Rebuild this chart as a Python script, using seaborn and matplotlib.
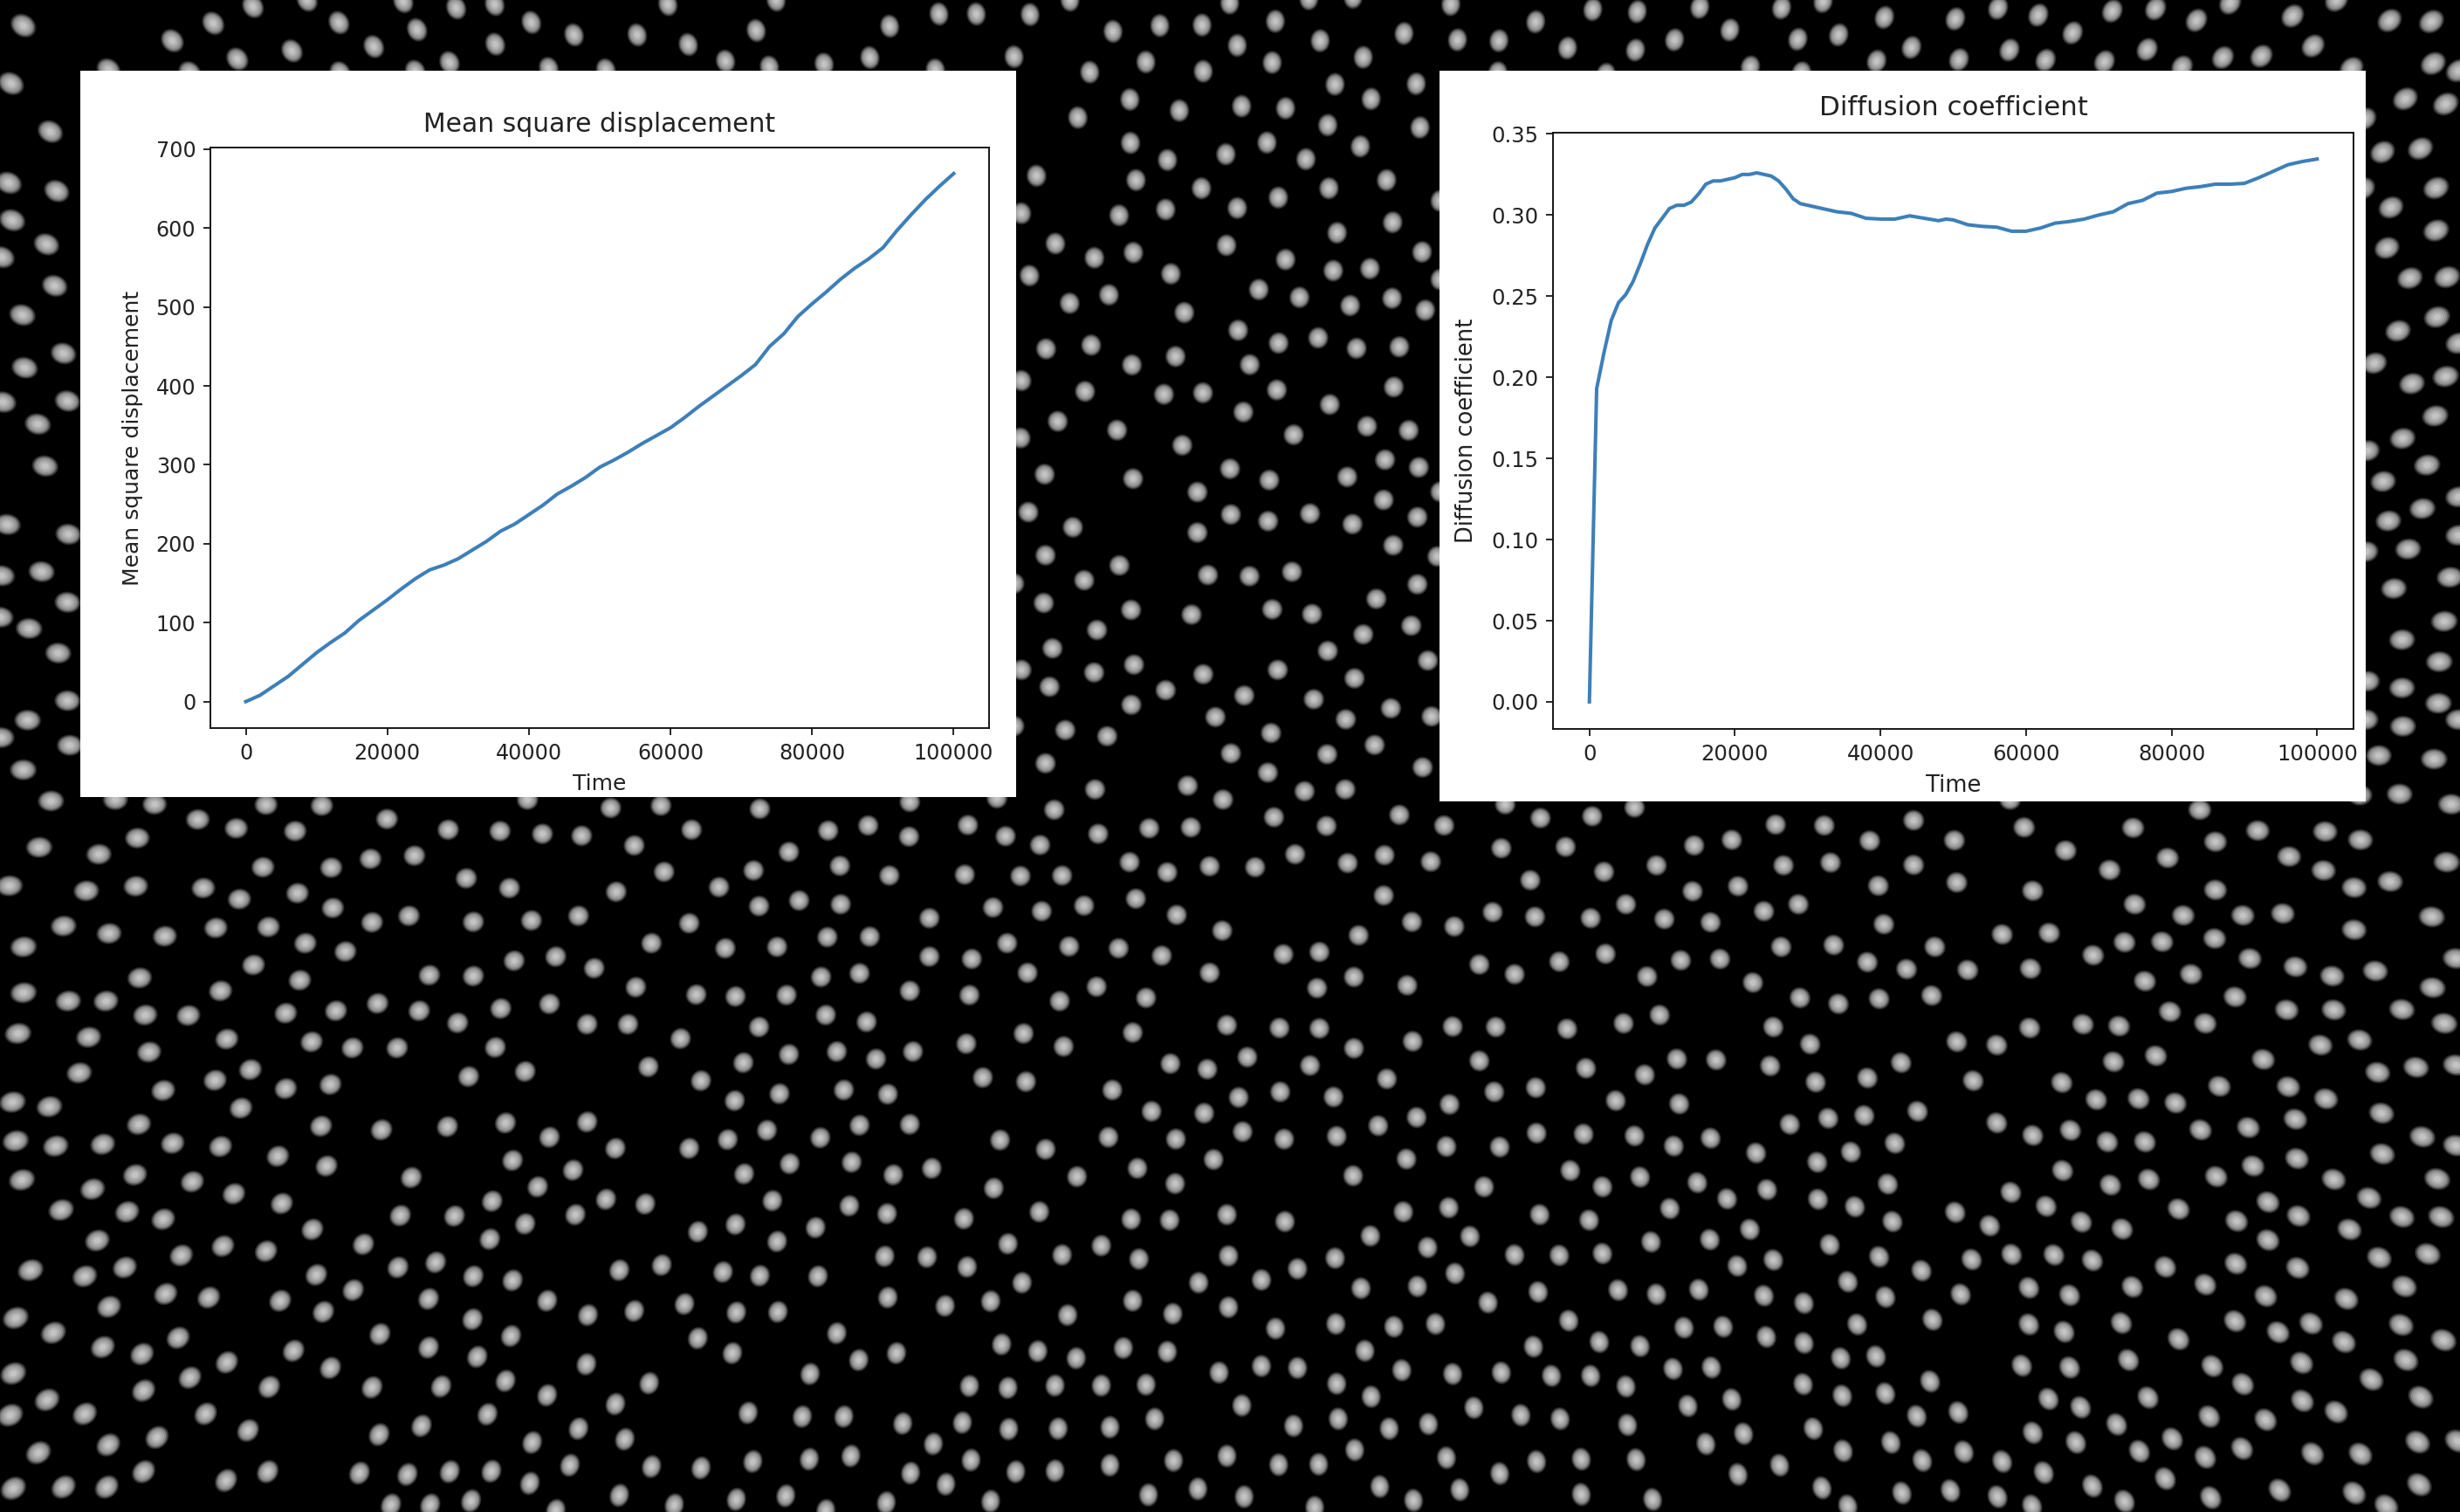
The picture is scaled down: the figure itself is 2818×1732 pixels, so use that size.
import numpy as np
import matplotlib
matplotlib.use("Agg")
import matplotlib.pyplot as plt
from matplotlib.collections import EllipseCollection
from matplotlib.patches import Rectangle
import seaborn as sns

# ---- chart values ----
time_msd = [0,2000,4000,6000,8000,10000,12000,14000,16000,18000,20000,22000,24000,26000,28000,30000,32000,34000,36000,38000,40000,42000,44000,46000,48000,50000,52000,54000,56000,58000,60000,62000,64000,66000,68000,70000,72000,74000,76000,78000,80000,82000,84000,86000,88000,90000,92000,94000,96000,98000,100000]
msd = [0,8,20,32,47,62,75,87,103,116,129,143,156,167,173,181,192,203,216,225,237,249,263,273,284,297,306,316,327,337,347,360,374,387,400,413,427,450,466,488,504,519,535,549,561,575,597,617,636,653,669]
time_diff = [0,1000,2000,3000,4000,5000,6000,7000,8000,9000,10000,11000,12000,13000,14000,15000,16000,17000,18000,19000,20000,21000,22000,23000,24000,25000,26000,27000,28000,29000,30000,32000,34000,36000,38000,40000,42000,44000,46000,48000,49000,50000,52000,54000,56000,58000,60000,62000,64000,66000,68000,70000,72000,74000,76000,78000,80000,82000,84000,86000,88000,90000,92000,94000,96000,98000,100000]
diff = [0,0.193,0.215,0.235,0.246,0.251,0.259,0.270,0.282,0.292,0.298,0.304,0.306,0.306,0.308,0.313,0.319,0.321,0.321,0.322,0.323,0.325,0.325,0.326,0.325,0.324,0.321,0.316,0.310,0.307,0.306,0.304,0.302,0.301,0.298,0.2975,0.2975,0.2995,0.298,0.2965,0.2975,0.297,0.294,0.293,0.2925,0.290,0.290,0.292,0.295,0.296,0.2975,0.300,0.302,0.307,0.309,0.3135,0.3145,0.3165,0.3175,0.319,0.319,0.3195,0.323,0.327,0.331,0.333,0.3345]
x_ticks = [0,20000,40000,60000,80000,100000]
msd_ticks = [0,100,200,300,400,500,600,700]
diff_ticks = [0,0.05,0.10,0.15,0.20,0.25,0.30,0.35]

# ---- background particles, read region by region from the picture ----
region_a = [(65,33),(147,30),(197,40),(339,41),(410,43),(672,30),(778,48),(842,43),(968,50),(1159,35),(1270,27),(1343,52),(1395,8),(1513,0),(1558,30),
(252,73),(301,92),(376,98),(493,72),(571,95),(637,98),(691,104),(741,108),(881,95),(1055,97),(1106,86),(1158,110),(1233,85),(1281,109),(1399,104),(1464,92),(1517,90),
(50,133),(126,148),(175,113),(808,129),(1325,128),
(335,176),(422,177),(472,158),(528,151),(846,186),(960,183),(1005,143),(1070,173),(1133,194),(1229,192),(1300,195),(1353,194),(1439,165),(1487,187),(1541,174),
(12,216),(110,227),(173,217),(259,221),(305,245),(379,232),(594,200),(649,221),(785,229),(916,219),
(424,264),(474,295),(521,281),(603,294),(677,291),(737,281),(878,297),(967,260),(1018,248),(1071,256),(1184,286),(1265,263),(1327,271),(1381,259),(1447,244),(1499,279),(1557,313),
(81,303),(139,319),(210,325),(275,307),(342,305),
(30,348),(389,340),(440,358),(830,340),(924,351),(990,348),(1054,327),(1108,326),(1283,340),(1362,347),(1425,351),(1480,367),
(323,387),(655,378),(708,369),(757,394),(1184,369),(1238,374),(1309,404),(1541,404),
(178,415),(382,420),(547,409),(603,411),(1046,413),(1095,405),
(30,447),(87,465),(135,465),(281,443),(810,435),(887,451),(937,455),(1002,452),(1159,443),(1235,452),(1350,465),(1397,434),(1460,458),
(185,495),(240,496),(364,491),(428,486),(481,470),(534,486),(638,481),(700,471),(1052,495),
(23,535),(113,543),(289,547),(583,512),(748,515),(800,515),(967,521),(1104,510),(1304,535),(1443,533),(1563,517),
(190,575),(397,553),(449,566),(506,566),(631,565),(867,546),(1005,580),(1066,574),(1116,590),(1163,574),(1231,557),(1355,563),(947,598),
(101,620),(319,613),(274,636),(597,628),(669,617),(826,607),(893,637),(1252,630),(1307,639),(1491,600),(1538,612),
(208,658),(364,654),(421,645),(993,665),(1075,657),(1131,666),(1417,657),
(16,683),(63,693),(307,696),(936,680),(1467,703),(1534,707),
(177,731),(409,735),(486,743),(570,736),(644,728),(748,726),(977,744),(1095,733),(1159,731),
(20,767),(71,778),(131,774),(220,772),(281,779),(700,759),(784,783),(878,783),(927,764),(1045,760),(1274,765),(1332,785),(1412,759),(1498,763),
(354,800),(416,821),(653,809),(730,830),(1006,816),(1085,813),(1187,826),(1138,840),(1449,826),(1546,807),
(28,851),(118,871),(172,840),(245,855),(298,881),(524,846),(685,866),(948,838),(1372,844),(1497,859),(1266,869),
(78,916),(162,920),(208,936),(359,902),(627,897),(772,893),(822,903),(984,896),(1082,907),(1324,920),(1130,924),
(510,928),(579,929),(733,926),(669,946),(937,947),(1228,935),(1441,936),(1490,938),(1563,926),
(124,982),(398,958),(463,990),(624,979),(889,963),(1039,954),(990,984),(1284,989),
(231,1014),(284,994),(339,1005),(1127,1016),(1181,1018),(1353,1013),(1403,993),(1451,1022),(1565,1015),
(39,1046),(108,1059),(159,1040),(403,1056),(507,1040),(555,1029),(603,1059),(653,1068),(789,1046),(843,1035),(921,1050),(968,1058),(1042,1059),(1232,1039),(1527,1073),(1302,1073),
(211,1097),(266,1105),(450,1089),
(139,1125),(357,1112),(412,1136),(546,1108),(697,1112),(749,1143),(808,1134),(872,1119),(938,1137),(991,1136),(1131,1105),(1204,1123),(1262,1113),(1443,1112),(1360,1143),(1494,1140),(1565,1126),
(20,1149),(602,1152),
(68,1181),(227,1192),(131,1212),(181,1227),(374,1220),(484,1184),(546,1213),(651,1188),(889,1193),(1066,1182),(1276,1206),(1322,1221),(1431,1214),(1487,1222),(608,1233),(933,1225),(1142,1225),(1371,1236),(1094,1240),
(17,1269),(289,1245),(242,1278),(421,1257),(747,1249),(1032,1270),(1553,1267),
(183,1306),(343,1298),(474,1299),(562,1297),(644,1285),(697,1316),(827,1290),(1235,1296),(1284,1300),(1344,1295),(1403,1295),(1460,1293),
(60,1326),(13,1359),(108,1356),(262,1356),(621,1357),(784,1335),(953,1354),(1022,1362),(1075,1362),(1150,1377),(1226,1375),(1471,1367),
(316,1392),(537,1382),(483,1401),(737,1388),(1285,1389),(1348,1388),(1414,1385),
(200,1407),(138,1423),(678,1418),(796,1411),(1189,1421),
(49,1440),(183,1481),(341,1481),(458,1484),(519,1487),(573,1481),(626,1480),(726,1467),(830,1470),(893,1473),(959,1459),(1031,1454),(1084,1447),(1237,1456),(1160,1484),(1294,1481),(1344,1479),(1414,1467),(1495,1457),(1563,1447),
(17,1517),(81,1514),(136,1514),(288,1500),(675,1506),(1205,1508),
(498,1553),(548,1553),(600,1544),(789,1532),(859,1553),(938,1541),(1001,1533),(1129,1548),(1262,1545),(1463,1531),(1526,1518),(708,1565),(1052,1565)]

region_b = [(94,12),(146,8),(350,40),(515,47),(994,30),(1236,52),(1491,18),(1440,20),(1557,40),
(55,68),(122,87),(215,63),(272,86),(395,70),(461,66),(695,84),(757,86),(871,75),(1012,90),(1151,91),(1310,97),(1396,99),(1441,117),
(82,148),(31,176),(149,167),(196,150),(255,164),(345,135),(427,132),(591,129),(639,117),(815,119),(923,118),(1065,140),(1256,121),(1195,156),(1350,153),(1551,165),
(382,204),(476,186),(543,172),(705,172),(765,166),(871,171),(1121,182),(1394,183),
(195,237),(589,228),(647,217),(826,216),(926,209),(1023,227),(1256,225),(1433,220),(1479,207),
(504,256),(724,256),(680,271),(1153,256),(1215,280),(1291,280),(1342,276),(1532,283),
(231,294),(285,304),(334,273),(388,283),(459,286),(553,288),(612,295),(833,299),(1433,311),
(163,323),(984,321),(1044,318),(1140,338),(1188,337),(1255,330),
(67,364),(113,359),(317,386),(419,380),(478,363),(574,377),(624,374),(702,348),(769,344),(898,348),(1100,366),(1300,373),(1563,373),
(362,407),(812,381),(862,396),(940,398),(1020,395),(1358,391),(1225,407),(1460,400),(1405,411),
(110,437),(157,413),(225,431),(531,412),(666,425),(1166,422),(1533,436),
(726,458),(775,471),(827,460),(894,453),(1281,456),(1198,488),(1347,484),(1407,484),(1494,483),
(5,517),(62,523),(113,524),(283,520),(338,521),(429,525),(501,513),(547,495),(692,521),(1019,523),(1087,515),(1133,519),(1243,513),(1548,513),
(232,552),(157,567),(739,558),(926,553),(977,560),(1440,549),(1390,560),
(21,586),(101,604),(317,594),(453,610),(569,590),(619,592),(688,605),(855,598),(1126,596),(1180,583),(1317,591),(1563,603),
(199,633),(528,624),(746,640),(812,631),(947,637),(1060,641),(1463,619),(1512,608),(1261,649),(1349,650),
(10,673),(63,661),(131,672),(336,661),(389,652),(491,680),(572,687),(1104,678),(1158,676),(1205,685),(1397,676),
(279,688),(237,716),(876,703),(1468,707),(808,712),(762,718),(713,731),
(15,747),(68,763),(135,757),(188,734),(390,750),(450,752),(515,756),(612,761),(977,728),(1071,744),(1023,755),(1237,743),(1298,738),(1358,720),(1520,758),(1563,777),
(224,806),(275,779),(343,780),(565,778),(670,793),(791,791),(847,772),(1118,769),(1166,769),(1469,795),(748,813),
(156,842),(433,831),(522,845),(595,857),(1061,831),(1304,821),(1360,805),(1257,844),(1407,850),(1539,849),(1171,850),
(323,866),(474,866),(684,872),(838,860),(1122,862),(995,878),
(5,925),(69,941),(220,920),(278,911),(394,926),(457,938),(560,913),(633,892),(749,893),(796,909),(924,921),(1040,908),(1209,914),(1323,899),(1452,890),(1362,929),(1283,940),(1494,931),(1544,931),(844,941),
(178,972),(305,973),(662,958),(611,980),(968,950),(1085,942),(1137,957),(1427,958),(1323,981),(536,985),(764,991),
(7,1015),(133,1020),(251,997),(362,1013),(419,1014),(474,1010),(692,1024),(827,1017),(945,1023),(996,1012),(1050,1013),(1099,1025),(1282,1032),(1465,1019),(1527,1011),
(85,1043),(286,1053),(646,1037),(881,1047),(1192,1039),(1361,1041),
(39,1067),(166,1085),(238,1081),(392,1093),(494,1089),(543,1098),(597,1088),(680,1101),(787,1071),(835,1104),(931,1098),(1018,1084),(1070,1100),(1150,1082),(1243,1077),(1320,1102),(1497,1081),(1423,1108),
(6,1127),(328,1116),(731,1117),
(57,1172),(134,1162),(208,1168),(261,1162),(431,1155),(578,1170),(628,1168),(799,1163),(895,1153),(1018,1163),(1063,1179),(1136,1160),(1281,1156),(1336,1180),(1378,1161),(1493,1164),(1209,1195),(1420,1201),(1547,1197),
(171,1220),(386,1211),(470,1201),(522,1210),(683,1190),(731,1203),(823,1232),(778,1236),
(39,1253),(85,1257),(218,1262),(283,1270),(345,1267),(409,1274),(459,1274),(564,1259),(613,1256),(1009,1252),(1070,1256),(1145,1240),(1252,1253),(1366,1246),(1499,1240),
(135,1291),(504,1297),(730,1292),(892,1286),(1291,1292),(1455,1282),
(14,1338),(179,1319),(310,1343),(583,1339),(639,1325),(780,1317),(835,1312),(1043,1324),(1084,1342),(1170,1321),(1367,1328),(1518,1320),(1410,1352),
(80,1382),(137,1367),(202,1388),(252,1378),(370,1359),(420,1367),(506,1380),(743,1388),(875,1361),(928,1353),(1130,1379),(1248,1362),(1320,1369),
(606,1421),(654,1399),(842,1418),(1023,1397),(1078,1418),(1201,1410),
(158,1434),(275,1451),(390,1459),(447,1454),(517,1455),(781,1436),(882,1457),(935,1438),(1159,1437),(1243,1450),(1290,1431),(1380,1442),(1441,1443),(1514,1417),(1565,1415),
(61,1466),(112,1465),(2,1447),(343,1485),(647,1487),(700,1467),(984,1459),(1037,1483),
(190,1513),(292,1520),(17,1535),(233,1543),(447,1530),(538,1541),(754,1516),(856,1527),(918,1522),(978,1535),(1099,1512),(1192,1496),(1338,1521),(1433,1527),(1516,1509),(1140,1545),(1250,1537),(1474,1555),(787,1555),(1022,1555),(107,1558)]

region_c = [(60,50),(197,0),(746,10),(1018,-5),(1170,-10),(345,108),(506,88),(651,86),(903,73),(1345,115),(772,156),(1057,140),(5,195),(458,213),(892,215),(1205,197),(265,248),(655,245),(1108,290),(1387,288),(403,342),(1232,340),(787,365),(938,372),(573,380),(224,404),(1083,430),(1400,438),(405,491),(874,490),(1195,503),(733,530),(532,550),(1008,547),(82,604),(424,619),(1285,619),(649,647),(1087,647),(913,679),(1470,690),(526,720),(772,715),(30,733),(366,740),(1306,764),(1115,800),(147,837),(735,843),(415,868),(1407,866),(281,886),(938,892),(1102,930),(1228,923),(58,947),(544,941),(1470,960),(846,995),(331,1013),(986,1022),(1304,1025),(196,1042),(1160,1050),(1418,1066),(590,1074),(775,1135),(1050,1161),(914,1179),(270,1186),(115,1199),(1182,1197),(1329,1192),(560,1225),(410,1254),(815,1253),(30,1308),(249,1345),(520,1355),(654,1350),(908,1340),(1310,1330),(1090,1390)]

region_d = [(793,36),(1090,20),(155,68),(359,98),(27,125),(966,114),(1218,85),(1361,99),(583,150),(1280,200),(1396,226),(747,231),(110,250),(414,265),(882,270),(1150,259),(635,311),(1275,338),(1470,310),(54,380),(750,388),(878,411),(1022,385),(1168,421),(1391,397),(207,432),(635,450),(1308,494),(113,528),(1460,532),(367,563),(671,596),(814,600),(960,585),(1391,628),(246,614),(5,625),(107,692),(1250,678),(407,716),(892,714),(1029,730),(615,732),(290,785),(1370,770),(1205,800),(137,848),(1083,857),(1427,890),(30,922),(417,904),(280,931),(655,937),(911,922),(1175,951),(127,980),(526,992),(796,1010),(1035,1023),(408,1042),(1300,1054),(697,1084),(1145,1092),(1440,1082),(5,1115),(181,1129),(325,1150),(888,1139),(750,1209),(1081,1212),(1244,1180),(113,1243),(877,1275),(1409,1257),(601,1303)]

region_e = [(80,50),(38,163),(173,257),(30,357),(195,373),(42,430),(160,477),(5,502),(188,558),(77,615),(218,690),(85,718),(10,785),(232,783),(130,828),(155,910),(25,1024),(235,1043),(5,1124),(143,1116),(232,1176),(0,1205),(100,1227),(200,1275),(232,1368),(95,1406),(3,1440),(240,1455),(80,1503),(175,1560)]

region_f = [(112,40),(256,42),(262,124),(350,138),(166,193),(305,203),(25,232),(88,297),(218,290),(272,367),(20,368),(117,405),(272,450),(103,484),(182,543),(310,541),(275,619),(141,646),(350,670),(60,709),(189,749),(305,735),(269,812),(157,856),(35,880),(241,908),(90,940),(350,970),(225,993),(108,1017),(350,1045),(30,1077),(176,1072),(320,1127),(127,1149),(300,1213),(155,1249),(283,1292),(35,1330),(155,1343),(280,1373),(30,1405),(158,1418),(350,1405),(75,1475),(265,1482),(145,1548),(30,1550),(330,1565)]

region_g = [(290,22),(380,0),(540,5),(628,27),(692,15),(980,15),(1160,0),(224,80),(433,78),(563,102),(753,77),(1127,105),(1349,90),(1431,48),(1493,48),(156,140),(824,120),(929,120),(1014,153),(491,160),(355,175),(693,152),(264,203),(1316,198),(1552,195),(1076,210),(617,215),(1149,230),(1240,220),(50,240),(185,250),(435,250),(560,245),(782,235),(877,240),(1425,240)]

region_h = [(32,15),(268,33),(342,40),(446,25),(582,27),(651,5),(942,28),(1204,30),(1328,10),(1505,0),(173,75),(753,60),(871,65),(1009,52),(1132,38),(1272,70),(1432,55),(43,137),(112,140),(496,103),(609,135),(677,120),(1066,113),(226,165),(339,172),(404,137),(798,163),(961,172),(1190,170),(1466,158),(740,210),(877,205),(1021,207),(1119,212),(1316,198),(1380,193),(530,230),(1248,230),(1530,235),(110,250),(615,250),(290,255)]

regions = [
    (region_a, 0, 900, 1568/1410, 1568/832),
    (region_b, 1410, 900, 1568/1408, 1568/832),
    (region_c, 1160, 0, 3, 3),
    (region_d, 1160, 460, 3, 3),
    (region_e, 0, 0, 3, 1568/920),
    (region_f, 2700, 0, 3, 1568/920),
    (region_g, 90, 0, 1568/1080, 3),
    (region_h, 1640, 0, 1568/1080, 3),
]
W, H = 2818, 1732
centres = []
for pts, ox, oy, sx, sy in regions:
    for px, py in pts:
        q = (ox + px / sx, oy + py / sy)
        # the crops overlap a little: keep a particle seen twice only once
        if all((q[0]-c[0])**2 + (q[1]-c[1])**2 > 18**2 for c in centres):
            centres.append(q)
centres = np.array(centres)
bx, by = centres[:, 0], centres[:, 1]

fig = plt.figure(figsize=(W/100, H/100), dpi=100, facecolor="black")
bg = fig.add_axes([0, 0, 1, 1])
bg.set_xlim(0, W)
bg.set_ylim(H, 0)
bg.axis("off")

# the particles look stretched towards the picture's edges
u, v = (bx - W/2) / (W/2), (by - H/2) / (H/2)
xx = 1 + 0.30 * u**4 - 0.08 * v**2
yy = 1 + 0.13 * v**2
xy = 0.12 * u * v
mean, half = (xx + yy) / 2, np.hypot((xx - yy) / 2, xy)
major, minor = 22 * (mean + half), 22 * (mean - half)
angle = 0.5 * np.degrees(np.arctan2(2 * xy, xx - yy))
for f, g in [(1.12, 28), (1.04, 62), (0.94, 105), (0.83, 140), (0.68, 160), (0.5, 178), (0.3, 195)]:
    c = EllipseCollection(major * f, minor * f, angle, units="xy",
                          offsets=np.c_[bx, by], offset_transform=bg.transData,
                          facecolors=(g/255, g/255, g/255), edgecolors="none")
    bg.add_collection(c)

bg.add_patch(Rectangle((92, 81), 1164-92, 913-81, facecolor="white", edgecolor="none", zorder=5))
bg.add_patch(Rectangle((1649, 81), 2710-1649, 918-81, facecolor="white", edgecolor="none", zorder=5))

K = 1.71
TEXT = "#222222"
LINE = "#3d7fb9"
def panel(box, xs, ys, title, ylim, yticks, yfmt, tsize, lsize, tick_size, tpad):
    l, t, r_, b = box
    ax = fig.add_axes([l/W, 1-b/H, (r_-l)/W, (b-t)/H], facecolor="white")
    sns.lineplot(x=xs, y=ys, ax=ax, color=LINE, linewidth=1.7*K, estimator=None, errorbar=None)
    ax.set_xlim(-5000, 105000)
    ax.set_ylim(*ylim)
    ax.set_xticks(x_ticks)
    ax.set_yticks(yticks)
    ax.set_yticklabels([yfmt.format(v) for v in yticks])
    ax.tick_params(length=3.5*K, width=0.8*K, pad=3.5*K, labelsize=tick_size, colors=TEXT)
    for s in ax.spines.values():
        s.set_linewidth(0.8*K)
        s.set_color("#111111")
    ax.set_title(title, fontsize=tsize, color=TEXT, pad=tpad)
    ax.set_xlabel("Time", fontsize=lsize, color=TEXT, labelpad=4*K+1.5)
    ax.set_ylabel(title, fontsize=lsize, color=TEXT, labelpad=4*K+4)
    return ax

panel((241, 169, 1133, 834), time_msd, msd, "Mean square displacement", (-33.5, 702), msd_ticks, "{:d}", 21.5, 18, 17.2, 13)
panel((1779, 151.5, 2696, 835), time_diff, diff, "Diffusion coefficient", (-0.0167, 0.351), diff_ticks, "{:.2f}", 22.2, 18.5, 17.5, 14)

fig.savefig("out.png", dpi=100, facecolor="black")
